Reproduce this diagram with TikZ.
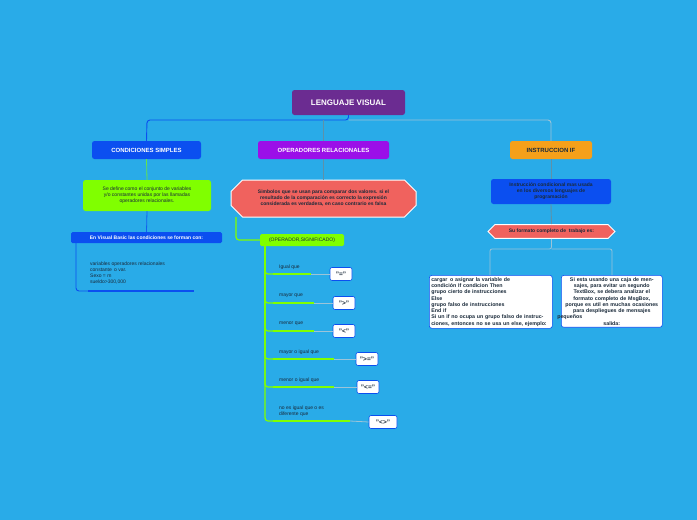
\documentclass[tikz,border=0pt]{standalone}
\usepackage{fontspec}
\setmainfont{Liberation Sans}
\usetikzlibrary{shapes.geometric,shapes.misc}
\definecolor{bg}{HTML}{29ABE8}
\definecolor{purp}{HTML}{6B2C91}
\definecolor{blu}{HTML}{0B4FF0}
\definecolor{vio}{HTML}{9B0FE8}
\definecolor{ora}{HTML}{F5A01A}
\definecolor{grn}{HTML}{80FF00}
\definecolor{redd}{HTML}{F0625E}
\definecolor{txt}{HTML}{1A2A3A}
\definecolor{gl}{HTML}{9CC4D8}
\tikzset{
 box/.style={rounded corners=2.5pt,inner sep=2pt,align=center,font=\fontsize{6}{7}\selectfont\bfseries},
 small/.style={font=\fontsize{5}{6}\selectfont,text=txt,align=left,inner sep=0pt},
 whb/.style={draw=blu,line width=0.6pt,fill=white,rounded corners=2.5pt,align=left,inner sep=2pt,font=\fontsize{5.3}{6.3}\selectfont\bfseries,text=txt},
 opb/.style={draw=blu,line width=0.6pt,fill=white,rounded corners=2pt,minimum height=13pt,font=\fontsize{6.5}{7}\selectfont\bfseries,text=txt},
 hex/.style={chamfered rectangle,chamfered rectangle xsep=8pt,draw=white,line width=1pt,fill=redd,align=center,font=\fontsize{5}{6}\selectfont\bfseries,text=txt},
 gline/.style={grn,line width=1.2pt},
 gray/.style={gl,line width=0.8pt},
 uline/.style={grn,line width=2.2pt},
}
\begin{document}
\begin{tikzpicture}[x=1pt,y=-1pt]
\fill[bg] (0,0) rectangle (697,520);
\useasboundingbox (0,0) rectangle (697,520);
% top
\node[box,fill=purp,text=white,minimum width=113pt,minimum height=25pt,font=\fontsize{8}{9}\selectfont\bfseries] (lv) at (348.5,102.5) {LENGUAJE VISUAL};
\node[box,fill=blu,text=white,minimum width=109pt,minimum height=18pt] (cs) at (146.5,150) {CONDICIONES SIMPLES};
\node[box,fill=vio,text=white,minimum width=131pt,minimum height=18pt] (or) at (323.5,150) {OPERADORES RELACIONALES};
\node[box,fill=ora,text=txt,minimum width=82pt,minimum height=18pt] (if) at (551,150) {INSTRUCCION IF};
\coordinate (j) at (348.5,120);
\draw[blu,line width=0.9pt,rounded corners=3pt] (lv.south) -- (j) -- (147,120) -- (cs.north);
\draw[gl,line width=0.9pt,rounded corners=3pt] (j) -- (551,120) -- (if.north);
\draw[gray!60!bg,line width=0.9pt] (323.5,120) -- (or.north);
% left
\node[box,fill=grn,text=txt,minimum width=128pt,minimum height=31pt,font=\fontsize{5}{6}\selectfont] (def) at (147,195.5) {Se define como el conjunto de variables\\y/o constantes unidas por las llamadas\\operadores relacionales.};
\draw[grn!70!bg,line width=0.8pt] (cs.south) -- (def.north);
\node[box,fill=blu,text=white,minimum width=151pt,minimum height=11pt,font=\fontsize{5}{6}\selectfont\bfseries,rounded corners=1.5pt] (vb) at (146.5,237.5) {En Visual Basic las condiciones se forman con:};
\draw[blu!80!bg,line width=0.8pt] (def.south) -- (vb.north);
\node[small,anchor=north west] (vt) at (90,262) {variables operadores relacionales\\constante \,o var.\\Sexo = m\\sueldo>300,000};
\coordinate (ve) at (194,291);
\draw[blu,line width=0.9pt,rounded corners=3pt] (76,243) -- (76,291) -- (88,291);
\draw[blu,line width=2.2pt] (88,291) -- (ve);
% middle
\node[hex,minimum width=185pt,minimum height=37pt] (hx) at (323.5,198.5) {Simbolos que se usan para comparar dos valores. si el\\resultado de la comparación es correcto la expresión\\considerada es verdadera, en caso contrario es falsa};
\draw[gray!60!bg,line width=0.9pt] (or.south) -- (hx.north);
\node[box,fill=grn,text=txt,minimum width=84pt,minimum height=12pt,font=\fontsize{5}{6}\selectfont,rounded corners=1.5pt] (os) at (302,240) {(OPERADOR,SIGNIFICADO)};
\draw[gline,rounded corners=3pt] (236,217) -- (236,240) -- (os.west);
\foreach \n/\ly/\ue/\bx/\sym/\lab in {
 a/267/311/341/"="/Igual que,
 b/296/314/344/">"/mayor que,
 c/324/314/344/"<"/menor que,
 d/352/334/367/">="/mayor o igual que,
 e/380/334/368/"<="/menor o igual que}{
 \node[small,anchor=west] (l\n) at (279,\ly) {\lab};
 \node[opb,minimum width=22pt] (b\n) at (\bx,\ly+7) {\sym};
 \draw[gline,rounded corners=3pt] (265,246) -- (265,\ly+7) -- (273,\ly+7);
 \draw[uline] (273,\ly+7) -- (\ue,\ly+7);
 \draw[gray] (\ue,\ly+7) -- (b\n.west);
}
\node[small,anchor=west] (lf) at (279,411.5) {no es igual que o es\\diferente que};
\node[opb,minimum width=28pt] (bf) at (383,422) {"<>"};
\draw[gline,rounded corners=3pt] (265,246) -- (265,421) -- (273,421);
\draw[uline] (273,421) -- (350,421);
\draw[gray] (350,421) -- (bf.west);
% right
\node[box,fill=blu,text=txt,minimum width=120pt,minimum height=25pt,font=\fontsize{5}{6}\selectfont\bfseries] (ic) at (551,191.5) {Instrucción condicional mas usada\\en los diversos lenguajes de\\programación};
\draw[gray!60!bg,line width=0.9pt] (if.south) -- (ic.north);
\node[hex,chamfered rectangle xsep=6pt,minimum width=127pt,minimum height=13pt,inner ysep=1pt] (fc) at (551.5,231.5) {Su formato completo de \ trabajo es:};
\draw[gray!60!bg,line width=0.9pt] (ic.south) -- (fc.north);
\node[whb,text width=119pt,anchor=north west] (w1) at (429,275) {cargar \,o asignar la variable de\\condición If condicion Then\\grupo cierto de instrucciones\\Else\\grupo falso de instrucciones\\End if\\Si un if no ocupa un grupo falso de instrucciones, entonces no se usa un else, ejemplo:};
\node[whb,text width=97pt,anchor=north west,align=center] (w2) at (561,275) {Si esta usando una caja de mensajes, para evitar un segundo TextBox, se debera analizar el formato completo de MsgBox, porque es util en muchas ocasiones para despliegues de mensajes\\\hspace*{-6pt}pequeños\hfill\mbox{}\\salida:};
\draw[gray,rounded corners=2pt] (fc.south) -- (551.5,249) -- (490,249) -- (490,275);
\draw[gray,rounded corners=2pt] (551.5,249) -- (612,249) -- (612,275);
\end{tikzpicture}
\end{document}
